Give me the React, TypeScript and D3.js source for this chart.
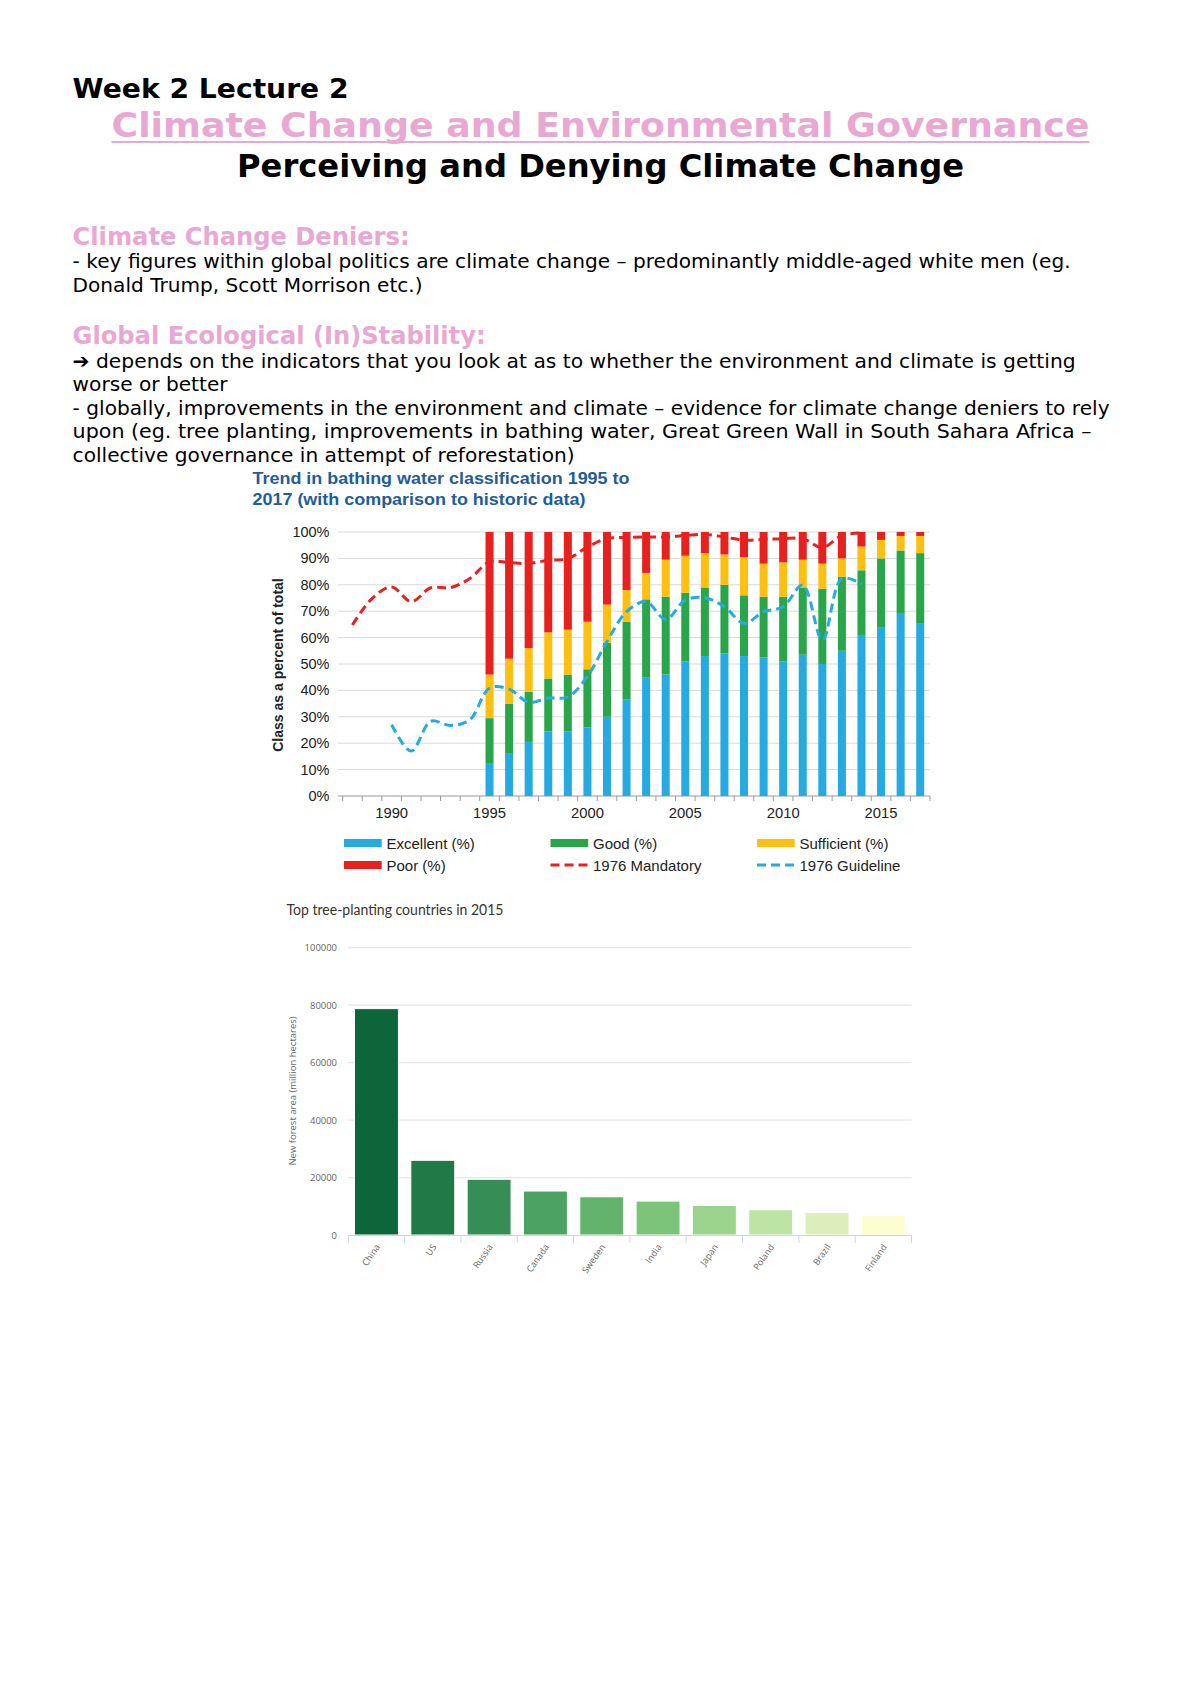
import React from 'react';
import * as d3 from 'd3';

// ---------- Chart 1 data: bathing water classification ----------
const allYears = [1988, 1989, 1990, 1991, 1992, 1993, 1994, 1995, 1996, 1997, 1998, 1999, 2000, 2001, 2002, 2003, 2004, 2005, 2006, 2007, 2008, 2009, 2010, 2011, 2012, 2013, 2014, 2015, 2016, 2017];
const barYears = [1995, 1996, 1997, 1998, 1999, 2000, 2001, 2002, 2003, 2004, 2005, 2006, 2007, 2008, 2009, 2010, 2011, 2012, 2013, 2014, 2015, 2016, 2017];
const excellent = [12.5, 16, 20.5, 24.5, 24.5, 26, 30, 36.5, 45, 46, 51, 53, 54, 53, 52.5, 51, 53.5, 50, 55, 61, 64, 69, 65.5];
const good = [17, 19, 19, 20, 21.5, 22, 28, 29.5, 29.5, 29.5, 26, 26, 26, 23, 23, 24.5, 25.5, 28.5, 28, 24.5, 26, 24, 26.5];
const sufficient = [16.5, 17, 16.5, 17.5, 17, 18, 14.5, 12, 10, 14, 14, 13, 11.5, 14.5, 12.5, 13, 10.5, 9.5, 7, 9, 7, 5.5, 6.5];
const poor = [54, 48, 44, 38, 37, 34, 27.5, 22, 15.5, 10.5, 9, 8, 8.5, 9.5, 12, 11.5, 10.5, 12, 10, 5.5, 3, 1.5, 1.5];
const mandatoryYears = [1988, 1989, 1990, 1991, 1992, 1993, 1994, 1995, 1996, 1997, 1998, 1999, 2000, 2001, 2002, 2003, 2004, 2005, 2006, 2007, 2008, 2009, 2010, 2011, 2012, 2013, 2014];
const mandatory = [64.8, 74.8, 79.2, 73.6, 78.9, 78.9, 82.4, 88.7, 88.4, 88.1, 89.3, 89.9, 94.3, 97.5, 97.9, 98.1, 98.1, 98.7, 99.1, 98.1, 96.9, 97.2, 97.5, 97.5, 94.1, 98.7, 99.6];
const guidelineYears = [1990, 1991, 1992, 1993, 1994, 1995, 1996, 1997, 1998, 1999, 2000, 2001, 2002, 2003, 2004, 2005, 2006, 2007, 2008, 2009, 2010, 2011, 2012, 2013, 2014];
const guideline = [27, 17, 28.3, 26.7, 28.9, 40.9, 40.5, 35.5, 37.1, 37.5, 45.3, 58.5, 69.8, 73.6, 66.9, 74.2, 75.1, 71.7, 65.4, 69.8, 71.7, 79.9, 59.1, 82.4, 80.3];
const yTicks1 = [0, 10, 20, 30, 40, 50, 60, 70, 80, 90, 100];
const xLabelYears = [1990, 1995, 2000, 2005, 2010, 2015];
const classKeys = ['Excellent', 'Good', 'Sufficient', 'Poor'];
const classColors = ['#25aae1', '#29a64a', '#fdc010', '#e8211f'];

// ---------- Chart 2 data: tree planting ----------
const countries = ['China', 'US', 'Russia', 'Canada', 'Sweden', 'India', 'Japan', 'Poland', 'Brazil', 'Finland'];
const newForest = [78800, 26000, 19400, 15300, 13300, 11800, 10300, 8800, 7800, 6700];
const countryColors = ['#0c6639', '#1f7a47', '#348e55', '#4ca263', '#63b36d', '#7cc47a', '#9bd38d', '#bde3a5', '#dcefbb', '#fdfdcf'];
const yTicks2 = [0, 20000, 40000, 60000, 80000, 100000];

const PINK = '#e8a8d2';
const docFont = '"DejaVu Sans", Verdana, sans-serif';
const arial = '"Liberation Sans", Arial, sans-serif';
const hcFont = '"Open Sans", "Noto Sans", sans-serif';

function Chart1() {
  const x = d3.scaleBand<string>().domain(allYears.map(String)).range([342.7, 930]).paddingInner(0.59).paddingOuter(0.295);
  const y = d3.scaleLinear().domain([0, 100]).range([796, 532]);
  const cx = (yr: number) => (x(String(yr)) as number) + x.bandwidth() / 2;
  const rows = barYears.map((yr, i) => ({ year: yr, Excellent: excellent[i], Good: good[i], Sufficient: sufficient[i], Poor: poor[i] }));
  const series = d3.stack<any>().keys(classKeys)(rows);
  const line = d3.line<[number, number]>().x(d => cx(d[0])).y(d => y(d[1])).curve(d3.curveCatmullRom.alpha(0.5));
  const mandPts = mandatoryYears.map((yr, i) => [yr, mandatory[i]] as [number, number]);
  const guidePts = guidelineYears.map((yr, i) => [yr, guideline[i]] as [number, number]);
  const step = x.step();
  const x0 = 342.7;
  const tickXs = allYears.map((_, i) => x0 + i * step).concat([x0 + allYears.length * step]);
  const lg = { fontFamily: arial, fontSize: 15, fill: '#222' } as const;
  return (
    <g>
      <text x={252.5} y={483.5} fontFamily={arial} fontWeight="bold" fontSize={17} fill="#1f5c9c" textLength={377} lengthAdjust="spacingAndGlyphs">Trend in bathing water classification 1995 to</text>
      <text x={252.5} y={504.5} fontFamily={arial} fontWeight="bold" fontSize={17} fill="#1f5c9c" textLength={333} lengthAdjust="spacingAndGlyphs">2017 (with comparison to historic data)</text>
      {yTicks1.map(t => (
        <g key={t}>
          <line x1={338} x2={930} y1={y(t)} y2={y(t)} stroke={t === 0 ? '#9a9a9a' : '#d9d9d9'} strokeWidth={1} />
          <text x={329.5} y={y(t) + 5} textAnchor="end" fontFamily={arial} fontSize={14.5} fill="#222">{t}%</text>
        </g>
      ))}
      {tickXs.map((tx, i) => (
        <line key={i} x1={tx} x2={tx} y1={796} y2={801} stroke="#9a9a9a" strokeWidth={1} />
      ))}
      {xLabelYears.map(yr => (
        <text key={yr} x={cx(yr)} y={818} textAnchor="middle" fontFamily={arial} fontSize={14.8} fill="#222">{yr}</text>
      ))}
      <text transform={`translate(283,665) rotate(-90)`} textAnchor="middle" fontFamily={arial} fontWeight="bold" fontSize={14} fill="#222">Class as a percent of total</text>
      {series.map((s, si) => (
        <g key={s.key} fill={classColors[si]}>
          {s.map((d: any, i: number) => (
            <rect key={i} x={x(String(d.data.year))} width={x.bandwidth()} y={y(d[1])} height={y(d[0]) - y(d[1])} />
          ))}
        </g>
      ))}
      <path d={line(mandPts) || ''} fill="none" stroke="#e8211f" strokeWidth={3} strokeDasharray="9,5" />
      <path d={line(guidePts) || ''} fill="none" stroke="#25aae1" strokeWidth={3} strokeDasharray="9,5" />
      {/* legend */}
      <rect x={344} y={839} width={37.7} height={8} fill={classColors[0]} />
      <text x={386.5} y={848.5} {...lg}>Excellent (%)</text>
      <rect x={550.5} y={839} width={37.7} height={8} fill={classColors[1]} />
      <text x={593} y={848.5} {...lg}>Good (%)</text>
      <rect x={757} y={839} width={37.7} height={8} fill={classColors[2]} />
      <text x={799.5} y={848.5} {...lg}>Sufficient (%)</text>
      <rect x={344} y={861} width={37.7} height={8} fill={classColors[3]} />
      <text x={386.5} y={870.5} {...lg}>Poor (%)</text>
      <line x1={550.5} x2={588.2} y1={865} y2={865} stroke="#e8211f" strokeWidth={3} strokeDasharray="9,5" />
      <text x={593} y={870.5} {...lg}>1976 Mandatory</text>
      <line x1={757} x2={794.7} y1={865} y2={865} stroke="#25aae1" strokeWidth={3} strokeDasharray="9,5" />
      <text x={799.5} y={870.5} {...lg}>1976 Guideline</text>
    </g>
  );
}

function Chart2() {
  const x = d3.scaleBand<string>().domain(countries).range([348.3, 911.5]).paddingInner(0.22).paddingOuter(0.11);
  const y = d3.scaleLinear().domain([0, 100000]).range([1235, 947.7]);
  const step = x.step();
  const edges = countries.map((_, i) => 348.3 + i * step).concat([348.3 + countries.length * step]);
  return (
    <g>
      <text x={286.5} y={915} fontFamily={'Lato, "Open Sans", sans-serif'} fontSize={15.5} fill="#3a3430" textLength={217} lengthAdjust="spacingAndGlyphs">Top tree-planting countries in 2015</text>
      {yTicks2.map(t => (
        <g key={t}>
          {t > 0 && <line x1={348.3} x2={911.5} y1={y(t)} y2={y(t)} stroke="#e6e6e6" strokeWidth={1.2} />}
          <text x={337} y={y(t) + 3.5} textAnchor="end" fontFamily={hcFont} fontSize={9.5} fill="#666" textLength={t === 0 ? undefined : (String(t).length * 5.4)} lengthAdjust="spacingAndGlyphs">{t}</text>
        </g>
      ))}
      <text transform={`translate(296,1091) rotate(-90)`} textAnchor="middle" fontFamily={hcFont} fontSize={9.5} fill="#666">New forest area (million hectares)</text>
      {countries.map((c, i) => (
        <rect key={c} x={x(c)} y={y(newForest[i])} width={x.bandwidth()} height={y(0) - y(newForest[i])} fill={countryColors[i]} stroke="#ffffff" strokeWidth={1} />
      ))}
      <line x1={348.3} x2={911.5} y1={1235.5} y2={1235.5} stroke="#ccd6eb" strokeWidth={1.2} />
      {edges.map((ex, i) => (
        <line key={i} x1={ex} x2={ex} y1={1235.5} y2={1243} stroke="#ccd6eb" strokeWidth={1} />
      ))}
      {countries.map(c => {
        const cx = (x(c) as number) + x.bandwidth() / 2 + 4;
        return (
          <text key={c} transform={`translate(${cx},1247) rotate(-55)`} textAnchor="end" fontFamily={hcFont} fontSize={9} fill="#666">{c}</text>
        );
      })}
    </g>
  );
}

export default function App() {
  const body = { fontFamily: docFont, fontSize: 20, fill: '#000', lengthAdjust: 'spacingAndGlyphs' } as const;
  const head = { fontFamily: docFont, fontWeight: 'bold', fontSize: 24, fill: PINK, lengthAdjust: 'spacingAndGlyphs' } as const;
  return (
    <svg width={1200} height={1698} viewBox="0 0 1200 1698" style={{ position: 'absolute', left: 0, top: 0, background: '#fff' }}>
      <rect x={0} y={0} width={1200} height={1698} fill="#fff" />
      <text x={72.6} y={97.5} fontFamily={docFont} fontWeight="bold" fontSize={27} fill="#000" textLength={276} lengthAdjust="spacingAndGlyphs">Week 2 Lecture 2</text>
      <text x={111.5} y={136.5} fontFamily={docFont} fontWeight="bold" fontSize={34} fill={PINK} textLength={978} lengthAdjust="spacingAndGlyphs">Climate Change and Environmental Governance</text>
      <line x1={111.5} x2={1089.5} y1={142} y2={142} stroke={PINK} strokeWidth={2.2} />
      <text x={237} y={177} fontFamily={docFont} fontWeight="bold" fontSize={32} fill="#000" textLength={727} lengthAdjust="spacingAndGlyphs">Perceiving and Denying Climate Change</text>

      <text x={72.6} y={245} {...head} textLength={337}>Climate Change Deniers:</text>
      <text x={72.6} y={268} {...body} textLength={998}>- key figures within global politics are climate change – predominantly middle-aged white men (eg.</text>
      <text x={72.6} y={291.5} {...body} textLength={350}>Donald Trump, Scott Morrison etc.)</text>

      <text x={72.6} y={343.5} {...head} textLength={413}>Global Ecological (In)Stability:</text>
      <text x={72.6} y={367.5} {...body} textLength={1003}>➔ depends on the indicators that you look at as to whether the environment and climate is getting</text>
      <text x={72.6} y={391} {...body} textLength={155}>worse or better</text>
      <text x={72.6} y={414.5} {...body} textLength={1037}>- globally, improvements in the environment and climate – evidence for climate change deniers to rely</text>
      <text x={72.6} y={438} {...body} textLength={1019}>upon (eg. tree planting, improvements in bathing water, Great Green Wall in South Sahara Africa –</text>
      <text x={72.6} y={461.5} {...body} textLength={502}>collective governance in attempt of reforestation)</text>

      <Chart1 />
      <Chart2 />
    </svg>
  );
}
